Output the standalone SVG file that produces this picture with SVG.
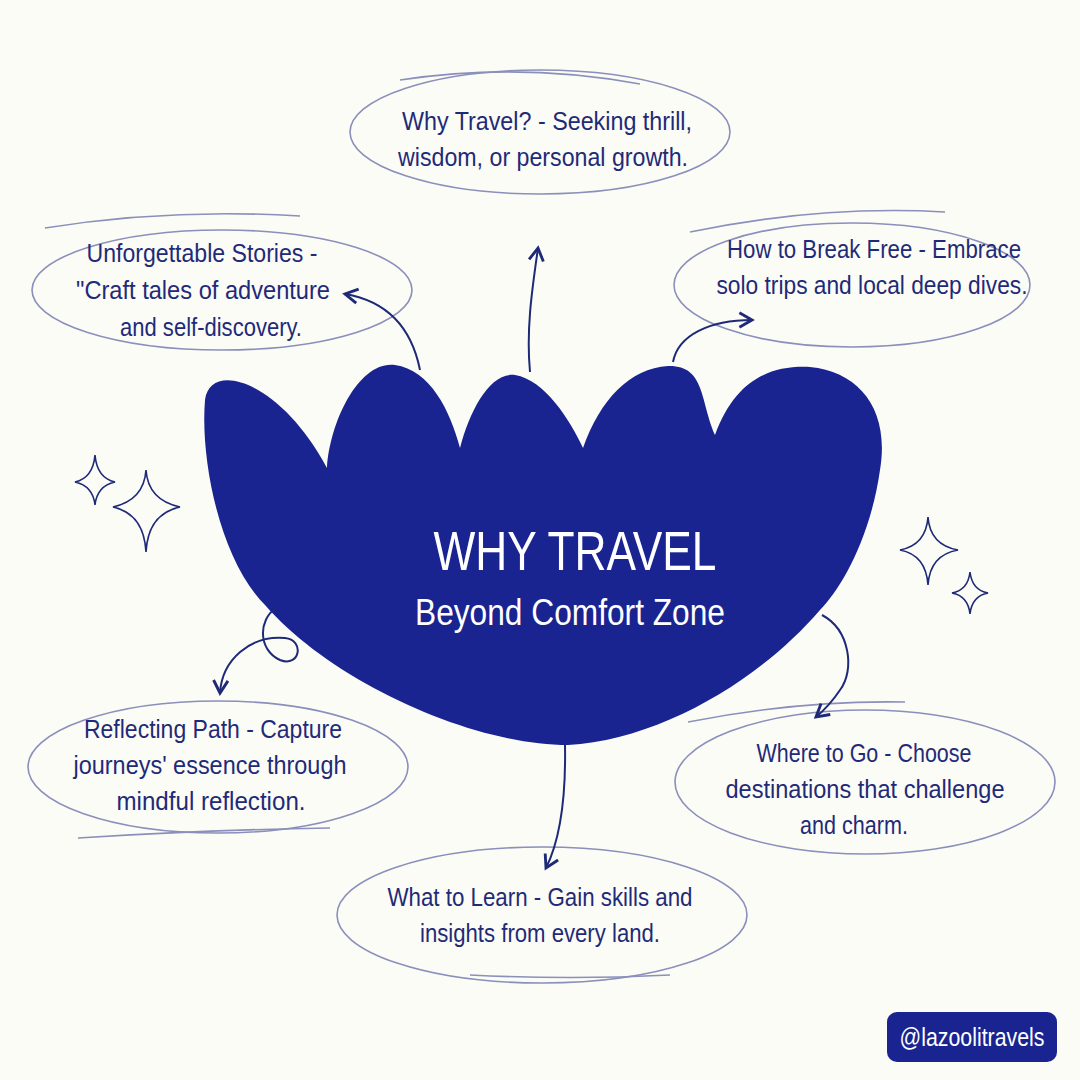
<svg xmlns="http://www.w3.org/2000/svg" width="1080" height="1080" viewBox="0 0 1080 1080">
<defs>
<style>
.e{fill:none;stroke:#8a8fbb;stroke-width:1.6}
.c{fill:none;stroke:#1e2a78;stroke-width:2}
.t{font-family:"Liberation Sans Narrow","Liberation Sans",sans-serif;font-size:26px;fill:#1f2a78;text-anchor:middle}
.s{fill:none;stroke:#1e2a78;stroke-width:1.6}
</style>
<marker id="a" viewBox="0 0 10 10" refX="8" refY="5" markerWidth="9" markerHeight="9" orient="auto"><path d="M1 1L8 5L1 9" fill="none" stroke="#1e2a78" stroke-width="1.6"/></marker>
</defs>
<rect width="1080" height="1080" fill="#fcfcf6"/>
<g id="center">
<path d="M205,400 C210,360 280,380 327,468 C330,420 360,360 395,365 C430,370 450,410 460,448 C470,410 490,372 515,375 C545,380 570,420 583,448 C600,400 630,368 668,366 C705,365 700,400 715,435 C735,380 770,365 810,367 C860,372 890,410 880,470 C870,540 840,590 820,610 C760,680 660,740 568,745 C470,745 330,680 265,605 C220,560 200,460 205,400 Z" fill="#1a2491"/>
<text x="575" y="570" font-family="Liberation Sans Narrow,Liberation Sans,sans-serif" font-size="56" fill="#fff" text-anchor="middle" textLength="283" lengthAdjust="spacingAndGlyphs">WHY TRAVEL</text>
<text x="570" y="625" font-family="Liberation Sans Narrow,Liberation Sans,sans-serif" font-size="36" fill="#fff" text-anchor="middle" textLength="310" lengthAdjust="spacingAndGlyphs">Beyond Comfort Zone</text>
</g>
<g id="n1"><ellipse class="e" cx="540" cy="132" rx="190" ry="62"/><path class="e" d="M400,80 Q520,62 640,84"/>
<text class="t" x="547" y="130" textLength="290" lengthAdjust="spacingAndGlyphs">Why Travel? - Seeking thrill,</text><text class="t" x="543" y="166" textLength="290" lengthAdjust="spacingAndGlyphs">wisdom, or personal growth.</text></g>
<g id="n2"><ellipse class="e" cx="222" cy="290" rx="190" ry="60"/><path class="e" d="M45,228 Q170,208 300,216"/>
<text class="t" x="202" y="262" textLength="231" lengthAdjust="spacingAndGlyphs">Unforgettable Stories -</text><text class="t" x="203" y="299" textLength="254" lengthAdjust="spacingAndGlyphs">"Craft tales of adventure</text><text class="t" x="211" y="336" textLength="182" lengthAdjust="spacingAndGlyphs">and self-discovery.</text></g>
<g id="n3"><ellipse class="e" cx="852" cy="285" rx="178" ry="62"/><path class="e" d="M690,232 Q820,205 945,212"/>
<text class="t" x="874" y="258" textLength="294" lengthAdjust="spacingAndGlyphs">How to Break Free - Embrace</text><text class="t" x="872" y="294" textLength="311" lengthAdjust="spacingAndGlyphs">solo trips and local deep dives.</text></g>
<g id="n4"><ellipse class="e" cx="218" cy="767" rx="190" ry="66"/><path class="e" d="M78,838 Q200,830 330,828"/>
<text class="t" x="213" y="738" textLength="258" lengthAdjust="spacingAndGlyphs">Reflecting Path - Capture</text><text class="t" x="210" y="774" textLength="273" lengthAdjust="spacingAndGlyphs">journeys' essence through</text><text class="t" x="211" y="810" textLength="189" lengthAdjust="spacingAndGlyphs">mindful reflection.</text></g>
<g id="n5"><ellipse class="e" cx="865" cy="782" rx="190" ry="72"/><path class="e" d="M688,722 Q800,700 905,702"/>
<text class="t" x="864" y="762" textLength="215" lengthAdjust="spacingAndGlyphs">Where to Go - Choose</text><text class="t" x="865" y="798" textLength="279" lengthAdjust="spacingAndGlyphs">destinations that challenge</text><text class="t" x="854" y="834" textLength="108" lengthAdjust="spacingAndGlyphs">and charm.</text></g>
<g id="n6"><ellipse class="e" cx="542" cy="915" rx="205" ry="68"/><path class="e" d="M470,975 Q570,980 670,975"/>
<text class="t" x="540" y="906" textLength="305" lengthAdjust="spacingAndGlyphs">What to Learn - Gain skills and</text><text class="t" x="540" y="942" textLength="240" lengthAdjust="spacingAndGlyphs">insights from every land.</text></g>
<g id="connectors">
<path class="c" d="M420,370 C410,320 380,300 345,294" marker-end="url(#a)"/>
<path class="c" d="M530,372 C526,330 532,290 538,248" marker-end="url(#a)"/>
<path class="c" d="M673,362 C678,335 710,320 752,320" marker-end="url(#a)"/>
<path class="c" d="M276,608 C258,620 258,650 280,660 C300,668 305,640 285,638 C250,635 222,660 220,693" marker-end="url(#a)"/>
<path class="c" d="M822,615 C850,630 855,670 840,690 C830,705 822,712 816,717" marker-end="url(#a)"/>
<path class="c" d="M565,745 C566,800 560,840 546,868" marker-end="url(#a)"/>
</g>
<g id="sparkles">
<path class="s" d="M95,455 Q97,478 115,482 Q97,486 95,505 Q93,486 75,482 Q93,478 95,455Z"/>
<path class="s" d="M146,470 Q148,500 180,507 Q148,514 146,552 Q144,514 113,507 Q144,500 146,470Z"/>
<path class="s" d="M928,517 Q930,545 958,550 Q930,555 928,585 Q926,555 900,550 Q926,545 928,517Z"/>
<path class="s" d="M970,572 Q972,590 988,593 Q972,596 970,614 Q968,596 952,593 Q968,590 970,572Z"/>
</g>
<g id="badge"><rect x="887" y="1012" width="170" height="50" rx="10" fill="#1a2491"/>
<text x="972" y="1046" font-family="Liberation Sans Narrow,Liberation Sans,sans-serif" font-size="25" fill="#fff" text-anchor="middle" textLength="145" lengthAdjust="spacingAndGlyphs">@lazoolitravels</text></g>
</svg>
